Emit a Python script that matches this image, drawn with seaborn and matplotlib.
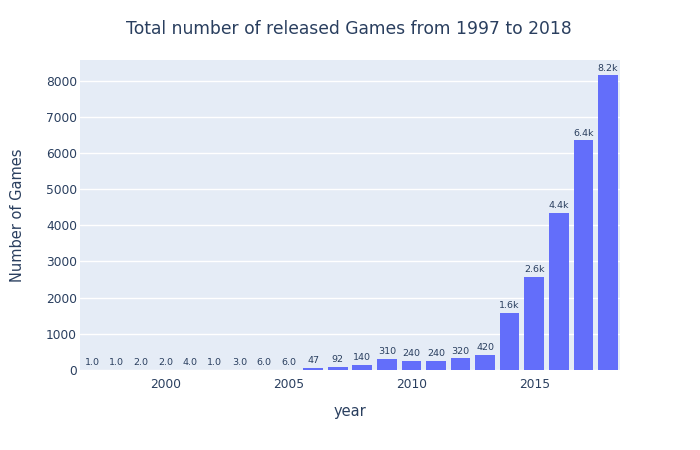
import matplotlib
matplotlib.use('Agg')
import matplotlib.pyplot as plt
import seaborn as sns
import pandas as pd

# data
years = list(range(1997, 2019))
games = [1, 1, 2, 2, 4, 1, 3, 6, 6, 47, 92, 140, 310, 240, 240, 320, 420,
         1570, 2580, 4350, 6350, 8150]
bar_labels = ['1.0', '1.0', '2.0', '2.0', '4.0', '1.0', '3.0', '6.0', '6.0',
              '47', '92', '140', '310', '240', '240', '320', '420',
              '1.6k', '2.6k', '4.4k', '6.4k', '8.2k']

df = pd.DataFrame({'year': years, 'games': games})

text_col = '#2a3f5f'
sns.set_style('darkgrid', {'axes.facecolor': '#E5ECF6', 'grid.color': 'white'})
plt.rcParams['font.family'] = ['DejaVu Sans']

fig = plt.figure(figsize=(7, 4.5), dpi=100)
ax = fig.add_axes([0.114, 0.178, 0.772, 0.689])

sns.barplot(data=df, x='year', y='games', native_scale=True, color='#636EFA',
            saturation=1, width=0.8, linewidth=0, ax=ax)

ax.bar_label(ax.containers[0], labels=bar_labels, fontsize=6.8, color=text_col, padding=2)

ax.set_xlim(1996.5, 2018.5)
ax.set_ylim(0, 8580)
ax.set_xticks([2000, 2005, 2010, 2015])
ax.set_yticks(range(0, 9000, 1000))
ax.tick_params(colors=text_col, labelsize=8.8, length=0)
ax.tick_params(axis='y', pad=2)
ax.tick_params(axis='x', pad=6)
ax.grid(axis='x', visible=False)
ax.grid(axis='y', color='white', linewidth=1)
for s in ax.spines.values():
    s.set_visible(False)

ax.set_xlabel('year', color=text_col, fontsize=10.5, labelpad=9)
ax.set_ylabel('Number of Games', color=text_col, fontsize=10.5, labelpad=15)
fig.suptitle('Total number of released Games from 1997 to 2018', x=0.498, y=0.955,
             color=text_col, fontsize=12.3)

fig.savefig('out.png', dpi=100, facecolor='white')
